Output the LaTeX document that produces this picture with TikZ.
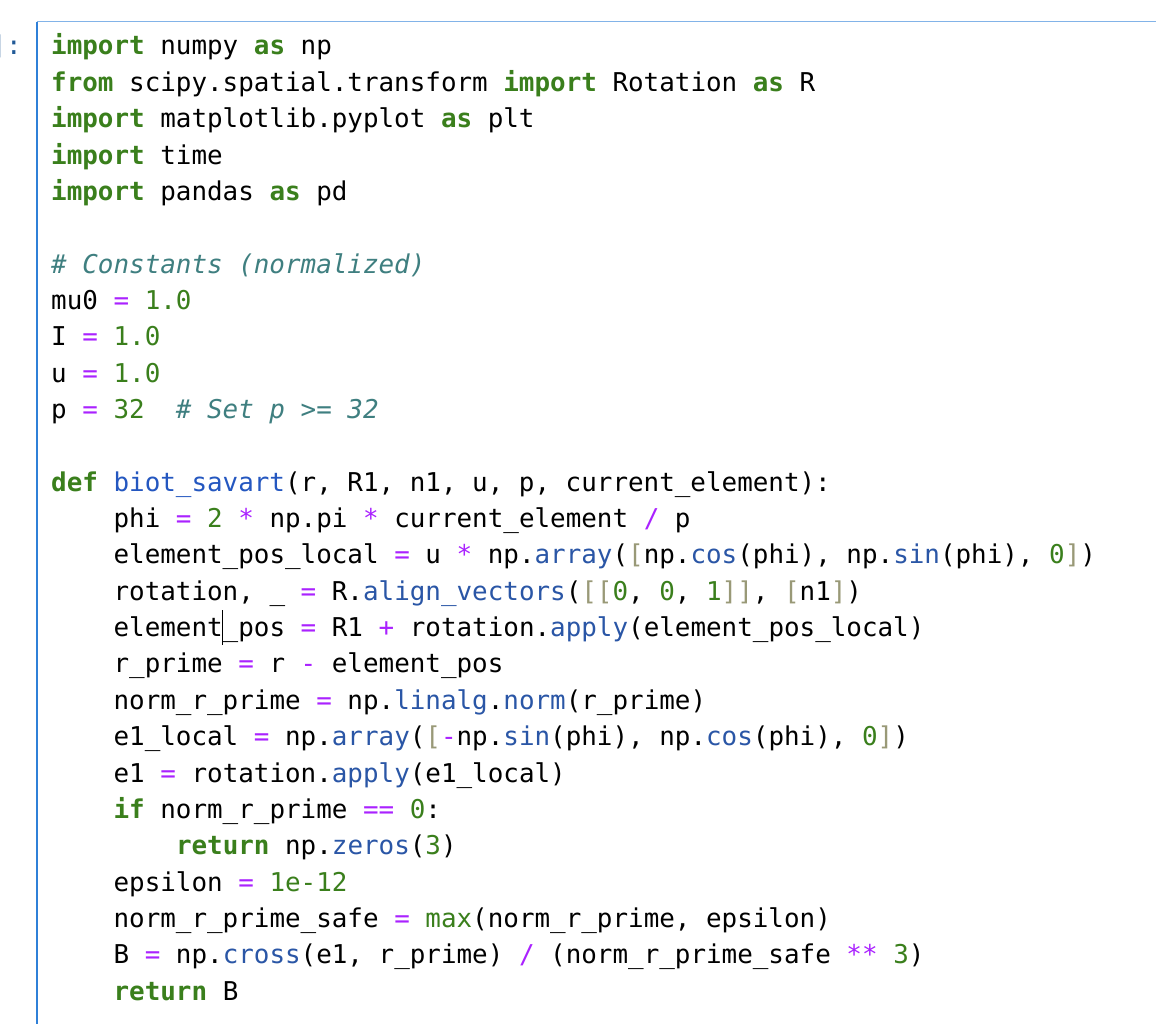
\documentclass[tikz,border=0pt]{standalone}
\usepackage{fontspec}
\setmonofont{DejaVu Sans Mono}
\definecolor{kwc}{HTML}{3A7F1C}
\definecolor{opc}{HTML}{AA22FF}
\definecolor{atc}{HTML}{2A56A6}
\definecolor{fnc}{HTML}{2457C0}
\definecolor{cmc}{HTML}{3F7F80}
\definecolor{brc}{HTML}{999977}
\definecolor{bordc}{HTML}{2F80D8}
\newcommand{\kw}[1]{\textcolor{kwc}{\bfseries #1}}
\newcommand{\nm}[1]{\textcolor{kwc}{#1}}
\newcommand{\op}[1]{\textcolor{opc}{#1}}
\newcommand{\at}[1]{\textcolor{atc}{#1}}
\newcommand{\fn}[1]{\textcolor{fnc}{#1}}
\newcommand{\cm}[1]{\textcolor{cmc}{\itshape #1}}
\newcommand{\br}[1]{\textcolor{brc}{#1}}
\newcommand{\codeln}[3]{\node[code] (l#1) at (#2,{55+#1*36.35}) {#3};}
\begin{document}
\begin{tikzpicture}[x=1pt,y=-1pt,
  code/.style={anchor=base west,inner sep=0pt,font=\fontsize{25.9}{30}\ttfamily}]
\useasboundingbox (0,0) rectangle (1156,1024);
\fill[white] (0,0) rectangle (1156,1024);
\draw[bordc,line width=1.5pt] (37,22) -- (37,1024);
\draw[bordc!60,line width=1pt] (37,22) -- (1156,22);
\node[code,anchor=base east,text=bordc!70!black] (prompt) at (22,55) {]:};
\codeln{0}{51}{\kw{import} numpy \kw{as} np}
\codeln{1}{51}{\kw{from} scipy.spatial.transform \kw{import} Rotation \kw{as} R}
\codeln{2}{51}{\kw{import} matplotlib.pyplot \kw{as} plt}
\codeln{3}{51}{\kw{import} time}
\codeln{4}{51}{\kw{import} pandas \kw{as} pd}
\codeln{6}{51}{\cm{\# Constants (normalized)}}
\codeln{7}{51}{mu0 \op{=} \nm{1.0}}
\codeln{8}{51}{I \op{=} \nm{1.0}}
\codeln{9}{51}{u \op{=} \nm{1.0}}
\codeln{10}{51}{p \op{=} \nm{32}\ \ \cm{\# Set p >= 32}}
\codeln{12}{51}{\kw{def} \fn{biot\_savart}(r, R1, n1, u, p, current\_element):}
\codeln{13}{113.4}{phi \op{=} \nm{2} \op{*} np.pi \op{*} current\_element \op{/} p}
\codeln{14}{113.4}{element\_pos\_local \op{=} u \op{*} np.\at{array}(\br{[}np.\at{cos}(phi), np.\at{sin}(phi), \nm{0}\br{]})}
\codeln{15}{113.4}{rotation, \_ \op{=} R.\at{align\_vectors}(\br{[[}\nm{0}, \nm{0}, \nm{1}\br{]]}, \br{[}n1\br{]})}
\codeln{16}{113.4}{element\_pos \op{=} R1 \op{+} rotation.\at{apply}(element\_pos\_local)}
\codeln{17}{113.4}{r\_prime \op{=} r \op{-} element\_pos}
\codeln{18}{113.4}{norm\_r\_prime \op{=} np.\at{linalg}.\at{norm}(r\_prime)}
\codeln{19}{113.4}{e1\_local \op{=} np.\at{array}(\br{[}\op{-}np.\at{sin}(phi), np.\at{cos}(phi), \nm{0}\br{]})}
\codeln{20}{113.4}{e1 \op{=} rotation.\at{apply}(e1\_local)}
\codeln{21}{113.4}{\kw{if} norm\_r\_prime \op{==} \nm{0}:}
\codeln{22}{175.8}{\kw{return} np.\at{zeros}(\nm{3})}
\codeln{23}{113.4}{epsilon \op{=} \nm{1e-12}}
\codeln{24}{113.4}{norm\_r\_prime\_safe \op{=} \nm{max}(norm\_r\_prime, epsilon)}
\codeln{25}{113.4}{B \op{=} np.\at{cross}(e1, r\_prime) \op{/} (norm\_r\_prime\_safe \op{**} \nm{3})}
\codeln{26}{113.4}{\kw{return} B}
\coordinate (cur1) at (222.5,610);
\coordinate (cur2) at (222.5,645);
\draw[black,line width=1.3pt] (cur1) -- (cur2);
\end{tikzpicture}
\end{document}
